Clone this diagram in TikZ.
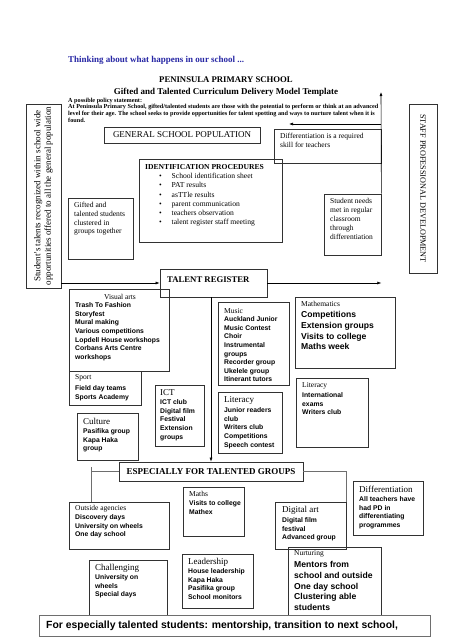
\documentclass[tikz,border=0pt]{standalone}
\usepackage{fontspec}
\setmainfont{Liberation Serif}
\newfontfamily\arialf{Liberation Sans}
\usetikzlibrary{fit,arrows.meta}
\definecolor{boxc}{RGB}{50,50,50}
\definecolor{linec}{RGB}{110,110,110}
\definecolor{titleblue}{RGB}{40,40,165}
\newcommand\fs[2]{\fontsize{#1}{#2}\selectfont}
\tikzset{
 bx/.style={draw=boxc, line width=0.75pt, inner sep=0pt},
 tx/.style={inner sep=0pt, anchor=north west, align=left, text=black},
 sb/.style={tx, font=\arialf\bfseries\fs{6.8}{8.6}},
 sbig/.style={tx, font=\arialf\bfseries\fs{8.6}{10.9}},
 hs/.style={inner sep=0pt, anchor=west, font=\fs{7.5}{8.5}},
 hb/.style={inner sep=0pt, anchor=west, font=\fs{9}{10}},
 st/.style={tx, font=\fs{7.5}{9}},
 arr/.style={draw=black, line width=0.6pt, -{Latex[length=4pt,width=3pt]}},
 gl/.style={draw=linec, line width=0.9pt},
}
\newcommand\gbox[5]{\node[bx, fit={(#2,#3)(#4,#5)}] (#1) {};}
\begin{document}
\begin{tikzpicture}[x=1pt,y=-1pt]
\useasboundingbox (0,0) rectangle (452,640);
\fill[white] (0,0) rectangle (452,640);

% titles
\node[inner sep=0pt, anchor=west, text=titleblue, font=\bfseries\fs{9}{10}] (think) at (68,60) {Thinking about what happens in our school ...};
\node[inner sep=0pt, font=\bfseries\fs{8.7}{10}] (title1) at (226,80) {PENINSULA PRIMARY SCHOOL};
\node[inner sep=0pt, font=\bfseries\fs{9}{10}] (title2) at (226,92) {Gifted and Talented Curriculum Delivery Model Template};
\node[tx, font=\bfseries\fs{6.2}{6.8}] (policy) at (68,97.5) {A possible policy statement:\\At Peninsula Primary School, gifted/talented students are those with the potential to perform or think at an advanced\\level for their age. The school seeks to provide opportunities for talent spotting and ways to nurture talent when it is\\found.};

% side boxes
\gbox{stu}{26}{104}{61}{288}
\node[inner sep=0pt, rotate=90, align=center, font=\fs{9}{10.5}] (stu-t) at (stu.center) {Student’s talents recognized within school wide\\opportunities offered to all the general population};
\gbox{spd}{409}{104}{437}{273}
\node[inner sep=0pt, rotate=-90, font=\fs{8.2}{9}] (spd-t) at (spd.center) {STAFF PROFESSIONAL DEVELOPMENT};

% upper boxes
\gbox{gsp}{104}{127}{260}{143}
\node[inner sep=0pt, font=\fs{9}{10}] (gsp-t) at (gsp.center) {GENERAL SCHOOL POPULATION};
\gbox{dif}{274}{129}{381}{163}
\node[st] (dif-t) at (280,133.2) {Differentiation is a required\\skill for teachers};
\gbox{idp}{139}{159}{282}{242}
\node[inner sep=0pt, anchor=west, font=\bfseries\fs{7.6}{8}] (idp-h) at (145,167) {IDENTIFICATION PROCEDURES};
\node[tx, font=\fs{7.6}{9.2}] (idp-t) at (159,173.2) {\makebox[12.5pt][l]{\textbullet}School identification sheet\\\makebox[12.5pt][l]{\textbullet}PAT results\\\makebox[12.5pt][l]{\textbullet}asTTle results\\\makebox[12.5pt][l]{\textbullet}parent communication\\\makebox[12.5pt][l]{\textbullet}teachers observation\\\makebox[12.5pt][l]{\textbullet}talent register staff meeting};
\gbox{gt}{68}{198}{133}{259}
\node[tx, font=\fs{7.6}{8.7}] (gt-t) at (74,202.2) {Gifted and\\talented students\\clustered in\\groups together};
\gbox{sn}{324}{194}{381}{255}
\node[st] (sn-t) at (330,198.2) {Student needs\\met in regular\\classroom\\through\\differentiation};
\gbox{tr}{160}{269}{267}{297}
\node[inner sep=0pt, anchor=west, font=\bfseries\fs{8.7}{10}] (tr-t) at (167,280) {TALENT REGISTER};

% talent areas
\gbox{va}{69}{289}{169}{371}
\node[inner sep=0pt, font=\fs{7.5}{8.5}] (va-h) at (120,297) {Visual arts};
\node[sb] (va-t) at (75,302.5) {Trash To Fashion\\Storyfest\\Mural making\\Various competitions\\Lopdell House workshops\\Corbans Arts Centre\\workshops};
\gbox{spo}{69}{371}{141}{405}
\node[hs] (spo-h) at (75,378) {Sport};
\node[sb] (spo-t) at (75,385.5) {Field day teams\\Sports Academy};
\gbox{cu}{77}{413}{138}{460}
\node[hb] (cu-h) at (83,421) {Culture};
\node[sb] (cu-t) at (83,428.5) {Pasifika group\\Kapa Haka\\group};
\gbox{ict}{155}{385}{204}{446}
\node[hb] (ict-h) at (160,393) {ICT};
\node[sb] (ict-t) at (160,399.5) {ICT club\\Digital film\\Festival\\Extension\\groups};
\gbox{mu}{218}{302}{289}{385}
\node[hs] (mu-h) at (224,311) {Music};
\node[sb] (mu-t) at (224,316.5) {Auckland Junior\\Music Contest\\Choir\\Instrumental\\groups\\Recorder group\\Ukelele group\\Itinerant tutors};
\gbox{li}{218}{392}{282}{453}
\node[hb] (li-h) at (224,400) {Literacy};
\node[sb] (li-t) at (224,407.5) {Junior readers\\club\\Writers club\\Competitions\\Speech contest};
\gbox{ma}{295}{297}{395}{368}
\node[hs] (ma-h) at (301,304) {Mathematics};
\node[sbig] (ma-t) at (301,310.8) {Competitions\\Extension groups\\Visits to college\\Maths week};
\gbox{lr}{296}{378}{368}{447}
\node[hs] (lr-h) at (302,386) {Literacy};
\node[sb] (lr-t) at (302,392.5) {International\\exams\\Writers club};

% especially
\gbox{ed}{119}{462}{303}{481}
\node[inner sep=0pt, font=\bfseries\fs{9}{10}] (ed-t) at (ed.center) {ESPECIALLY FOR TALENTED GROUPS};
\gbox{oa}{69}{502}{169}{549}
\node[hs] (oa-h) at (75,509) {Outside agencies};
\node[sb] (oa-t) at (75,514.5) {Discovery days\\University on wheels\\One day school};
\gbox{mt}{183}{487}{244}{536}
\node[hs] (mt-h) at (189,494) {Maths};
\node[sb] (mt-t) at (189,500.5) {Visits to college\\Mathex};
\gbox{da}{275}{502}{346}{549}
\node[hb] (da-h) at (282,510) {Digital art};
\node[sb] (da-t) at (282,517.5) {Digital film\\festival\\Advanced group};
\gbox{df}{353}{481}{423}{535}
\node[hb] (df-h) at (359,489) {Differentiation};
\node[sb] (df-t) at (359,496.5) {All teachers have\\had PD in\\differentiating\\programmes};
\gbox{ch}{89}{560}{167}{615}
\node[hb] (ch-h) at (95,568) {Challenging};
\node[sb] (ch-t) at (95,574.5) {University on\\wheels\\Special days};
\gbox{le}{182}{554}{253}{608}
\node[hb] (le-h) at (188,562) {Leadership};
\node[sb] (le-t) at (188,568.5) {House leadership\\Kapa Haka\\Pasifika group\\School monitors};
\gbox{nu}{288}{547}{381}{615}
\node[hs] (nu-h) at (294,554) {Nurturing};
\node[sbig] (nu-t) at (294,560.8) {Mentors from\\school and outside\\One day school\\Clustering able\\students};
\node[draw=linec, line width=0.9pt, inner sep=0pt, fit={(39,615)(430,636)}] (bt) {};
\node[inner sep=0pt, anchor=west, font=\arialf\bfseries\fs{10.4}{11}] (bt-t) at (46,626) {For especially talented students: mentorship, transition to next school,};

% connectors
\coordinate (uptop) at (381,92);
\coordinate (lj) at (381,124);
\coordinate (lend) at (289,124);
\draw[arr] (sn.north east) -- (uptop);
\draw[arr] (lj) -- (lend);
\draw[arr] (stu.east |- tr.west) -- (tr.west);
\draw[arr] (tr.east) -- (tr.east -| sn.east);
\draw[arr] (ed.north |- tr.south) -- (ed.north);
\coordinate (oal) at (91,502);
\coordinate (oatop) at (91,467);
\draw[gl] (ed.west) -- (ed.west -| oal);
\draw[gl] (oatop) -- (oal);
\draw[gl] (ed.east) -| (da.north east);
\end{tikzpicture}
\end{document}
